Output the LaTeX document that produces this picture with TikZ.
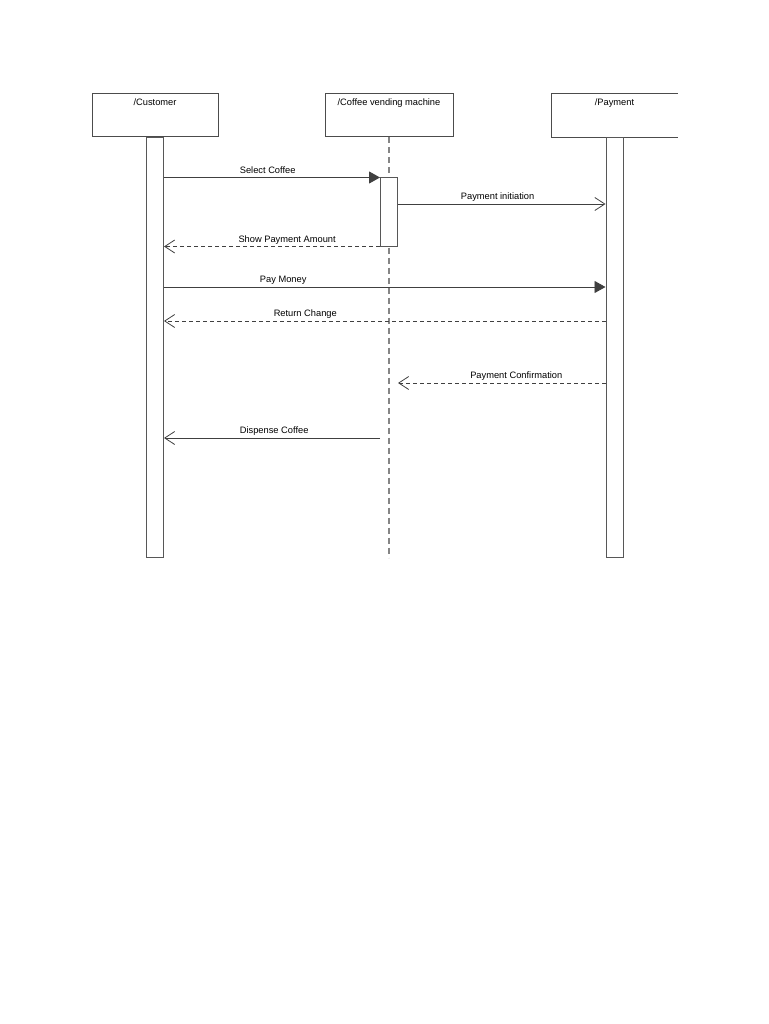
\documentclass[tikz,border=0pt]{standalone}
\usepackage{fontspec}
\setmainfont{Liberation Sans}
\usetikzlibrary{arrows.meta,positioning}
\newcommand{\seqfont}{\fontsize{9.3}{11}\selectfont}
\tikzset{
  obj/.style={draw=black!70, line width=1pt, minimum height=43pt, inner sep=0pt},
  objlbl/.style={font=\seqfont, inner sep=0pt, text height=7pt, text depth=2pt},
  actbar/.style={draw=black!66, fill=white, line width=1pt, minimum width=17pt, inner sep=0pt},
  lifeline/.style={draw=black!48, line width=1.2pt, dash pattern=on 6pt off 4pt},
  msg/.style={draw=black!75, line width=0.9pt},
  sync/.style={msg, -{Triangle[length=11pt, width=12pt]}},
  async/.style={msg, -{Straight Barb[length=10pt, width=13pt, line width=0.8pt]}},
  reply/.style={async, dash pattern=on 4pt off 3pt},
  lbl/.style={font=\seqfont, anchor=south, inner sep=2pt, text height=7pt, text depth=2pt},
}
\begin{document}
\begin{tikzpicture}[x=1pt, y=-1pt]
  \useasboundingbox (0,0) rectangle (768,1024);
  % objects
  \node[obj, minimum width=126pt] (customer) at (155,115.5) {};
  \node[obj, minimum width=128pt] (machine) at (389,115.5) {};
  \node[obj, draw=none, minimum width=125pt] (payment) at (614.5,115.5) {};
  \draw[obj] (payment.north east) -- (payment.north west) -- (payment.south west) -- (payment.south east);
  \node[objlbl, below=5pt of customer.north] {/Customer};
  \node[objlbl, below=5pt of machine.north] {/Coffee vending machine};
  \node[objlbl, below=5pt of payment.north] {/Payment};
  % lifelines
  \node[actbar, minimum height=419pt, anchor=north] (custbar) at (customer.south) {};
  \node[actbar, minimum height=419pt, anchor=north] (paybar) at (payment.south) {};
  \draw[lifeline] (machine.south) -- (machine.south |- custbar.south);
  \node[actbar, minimum height=68pt, anchor=north] (machbar) at ([yshift=-40pt]machine.south) {};
  % message levels
  \foreach \n/\y in {pm/204, pay/287, ret/321, conf/383, disp/438}
    \coordinate (y\n) at (0,\y);
  % messages
  \draw[sync] (custbar.east |- machbar.north) -- (machbar.north west)
    node[lbl, pos=0.48] {Select Coffee};
  \draw[async] (machbar.east |- ypm) -- (paybar.west |- ypm)
    node[lbl, pos=0.48] {Payment initiation};
  \draw[reply] (machbar.south west) -- (custbar.east |- machbar.south)
    node[lbl, pos=0.43] {Show Payment Amount};
  \draw[sync] (custbar.east |- ypay) -- (paybar.west |- ypay)
    node[lbl, pos=0.27] {Pay Money};
  \draw[reply] (paybar.west |- yret) -- (custbar.east |- yret)
    node[lbl, pos=0.68] {Return Change};
  \draw[reply] (paybar.west |- yconf) -- (machbar.east |- yconf)
    node[lbl, pos=0.43] {Payment Confirmation};
  \draw[async] (machbar.west |- ydisp) -- (custbar.east |- ydisp)
    node[lbl, pos=0.49] {Dispense Coffee};
\end{tikzpicture}
\end{document}
